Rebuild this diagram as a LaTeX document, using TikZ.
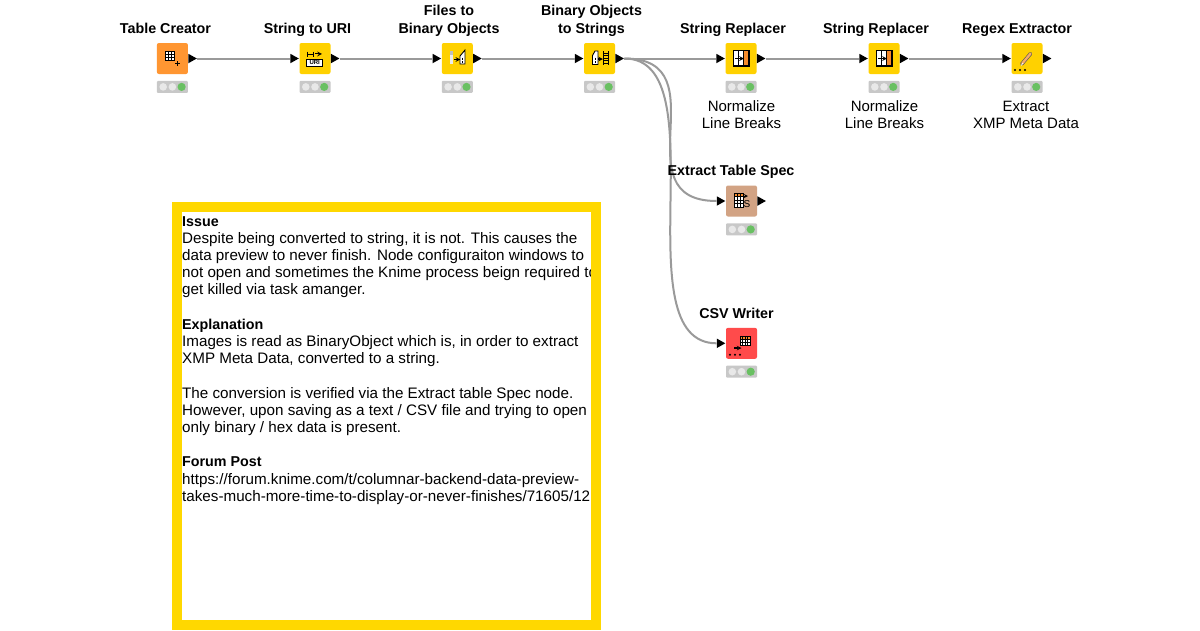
\documentclass[tikz,border=0pt]{standalone}
\usepackage{fontspec}
\setmainfont{Liberation Sans}
\usetikzlibrary{positioning,shapes.geometric}
\definecolor{sourcecol}{HTML}{FF9632}
\definecolor{manipcol}{HTML}{FFD100}
\definecolor{othercol}{HTML}{D2A384}
\definecolor{sinkcol}{HTML}{FF4B4B}
\definecolor{framecol}{HTML}{FFD800}
\definecolor{wirecol}{HTML}{9A9A9A}
\definecolor{barcol}{HTML}{C8C8C8}
\definecolor{lampcol}{HTML}{E8E8E8}
\definecolor{okcol}{HTML}{69C062}
\definecolor{headcol}{HTML}{F58A2C}
\newcommand{\notehead}[1]{{\fontsize{14.3}{17.2}\selectfont\bfseries #1}}
\tikzset{
  knode/.style={rounded corners=2pt, minimum size=31pt, inner sep=0pt},
  statusbar/.style={fill=barcol, rounded corners=1pt, minimum width=31pt, minimum height=12pt, inner sep=0pt},
  outport/.style={isosceles triangle, isosceles triangle stretches, fill=black, inner sep=0pt,
    minimum height=8.5pt, minimum width=9.5pt, anchor=lower side},
  inport/.style={outport, anchor=apex},
  wire/.style={wirecol, line width=2pt},
  title/.style={font=\fontsize{14.3}{18}\selectfont\bfseries, align=center, inner sep=0pt, text depth=3.5pt, anchor=south},
  caption/.style={font=\fontsize{15}{17.2}\selectfont, align=center, inner sep=0pt, text depth=3.5pt, anchor=south},
  icon/.style={line width=.9pt, black},
  iconarrow/.style={-stealth, line width=1.1pt, black}
}
\begin{document}
\begin{tikzpicture}[x=1pt,y=-1pt]
\useasboundingbox (0,0) rectangle (1200,630);
\fill[white] (0,0) rectangle (1200,630);
%boxes and status bars
\foreach \name/\xx/\yy/\col in {creator/172.4/58.5/sourcecol, uri/315/58.5/manipcol, files/457.3/58.5/manipcol,
    strings/599.5/58.5/manipcol, replaceA/741/58.5/manipcol, replaceB/884/58.5/manipcol,
    regex/1027/58.5/manipcol, spec/741.5/201/othercol, csv/741.5/343.3/sinkcol} {
  \node[knode, fill=\col] (\name) at (\xx,\yy) {};
  \node[statusbar, below=6.5pt of \name] (\name-status) {};
  \fill[lampcol] (\name-status.center) ++(-9.2,0) circle (3.8) ++(9.2,0) circle (3.8);
  \fill[okcol] (\name-status.center) ++(9.2,0) circle (4.1);
}
%ports
\foreach \name in {creator,uri,files,strings,replaceA,replaceB,regex,spec}
  \node[outport] (\name-out) at (\name.east) {};
\foreach \name in {uri,files,strings,replaceA,replaceB,regex,spec,csv}
  \node[inport] (\name-in) at (\name.west) {};
%connections
\foreach \a/\b in {creator/uri,uri/files,files/strings,strings/replaceA,replaceA/replaceB,replaceB/regex}
  \draw[wire] (\a-out.apex) -- (\b-in.lower side);
\draw[wire] (strings-out.apex) .. controls +(98,0) and +(-98,0) .. (spec-in.lower side);
\draw[wire] (strings-out.apex) .. controls +(96,0) and +(-96,0) .. (csv-in.lower side);
%titles
\node[title] (t-creator) at (165.5,37.5) {Table Creator};
\node[title] (t-uri) at (307.5,37.5) {String to URI};
\node[title] (t-files) at (449,37.5) {Files to\\Binary Objects};
\node[title] (t-strings) at (591.5,37.5) {Binary Objects\\to Strings};
\node[title] (t-replaceA) at (733,37.5) {String Replacer};
\node[title] (t-replaceB) at (876,37.5) {String Replacer};
\node[title] (t-regex) at (1017,37.5) {Regex Extractor};
\node[title] (t-spec) at (731,179.5) {Extract Table Spec};
\node[title] (t-csv) at (736.5,322.5) {CSV Writer};
%captions
\node[caption] (c-replaceA) at (741.5,132.5) {Normalize\\Line Breaks};
\node[caption] (c-replaceB) at (884.5,132.5) {Normalize\\Line Breaks};
\node[caption] (c-regex) at (1026,132.5) {Extract\\XMP Meta Data};
%icon table creator
\begin{scope}[shift={(creator)}]
  \draw[icon, line width=.7pt, fill=white, shift={(-7.2,2.2)}] (0,0) grid[step=3pt] (9,-9) (0,0) rectangle (9,-9);
  \draw[line width=1.4pt] (3,4.8) -- (7.6,4.8) (5.3,2.5) -- (5.3,7.1);
\end{scope}
%icon uri
\begin{scope}[shift={(uri)}]
  \draw[icon] (-7.7,-6.8) -- (-7.7,-1.8) (-1.7,-6.8) -- (-1.7,-1.8) (-7.7,-4.3) -- (-1.7,-4.3);
  \draw[iconarrow] (0,-4.6) -- (7,-4.6);
  \draw[icon, fill=white] (-8.3,0.8) rectangle (7.7,7.5);
  \node[font=\fontsize{6}{6}\selectfont\bfseries, inner sep=0pt] (urilabel) at (-0.3,4.2) {URI};
\end{scope}
%icon files
\begin{scope}[shift={(files)}]
  \fill[white!85!gray] (-7.3,-7.8) rectangle (-4,5.5);
  \fill[gray!50] (-7.3,-7.8) rectangle (-4,-4);
  \draw[iconarrow] (-3,1) -- (3,1);
  \draw[icon, fill=white] (2.7,-2.5) -- (7.7,-8.5) -- (7.7,5.5) -- (2.7,5.5) -- cycle;
  \draw[icon] (5.2,-1) -- (5.2,1) (5.2,2.5) -- (5.2,4.5);
\end{scope}
%icon strings
\begin{scope}[shift={(strings)}]
  \draw[icon, fill=white] (-7,-3) -- (-4.5,-7.5) -- (-1.5,-7.5) -- (-1.5,6) -- (-7,6) -- cycle;
  \draw[icon] (-4,-1) -- (-4,1) (-4,2.5) -- (-4,4.5);
  \draw[iconarrow] (-1.5,0.5) -- (3.5,0.5);
  \draw[icon] (3.5,-7.5) -- (3.5,6) (8.5,-7.5) -- (8.5,6);
  \foreach \yy in {-5.5,-3,-0.5,2,4.5}
    \draw[icon] (3.5,\yy) -- (8.5,\yy);
\end{scope}
%icon string replacer
\foreach \name in {replaceA,replaceB} {
  \begin{scope}[shift={(\name)}]
    \fill[white] (-7.7,-7.8) rectangle (2.3,7.5);
    \fill[headcol] (2.3,-7.8) rectangle (8,7.5);
    \draw[icon, line width=1.1pt] (-7.7,-7.8) rectangle (8,7.5);
    \draw[icon] (-3,-7.8) -- (-3,7.5) (2.3,-7.8) -- (2.3,7.5);
    \draw[iconarrow] (-6,0) -- (3,0);
  \end{scope}
}
%icon regex
\begin{scope}[shift={(regex)}]
  \draw[line width=3.6pt, black!65, line cap=round] (-5.2,5.5) -- (3.5,-4.8);
  \draw[line width=2.3pt, headcol!70!white, line cap=round] (-4.8,5) -- (3.5,-4.8);
  \draw[line width=.7pt, white] (-5.8,7) -- (-4,4.5);
  \foreach \xx in {-12,-7,-2}
    \fill[black] (\xx,11.5) circle (1.1);
\end{scope}
%icon spec
\begin{scope}[shift={(spec)}]
  \fill[white] (-7.5,-7.7) rectangle (1.5,6.3);
  \fill[headcol] (-7.5,-7.7) rectangle (1.5,-4.2);
  \draw[icon, line width=.7pt, shift={(-7.5,6.3)}] (0,0) grid[xstep=3pt,ystep=3.5pt] (9,-14) (0,0) rectangle (9,-14);
  \draw[-stealth, line width=.9pt] (1.5,-5) -- (6.5,-5);
  \node[font=\fontsize{10}{10}\selectfont, inner sep=0pt] (speclabel) at (5.5,3) {S};
\end{scope}
%icon csv
\begin{scope}[shift={(csv)}]
  \fill[white] (-1.5,-7.3) rectangle (8.5,1.7);
  \fill[headcol] (-1.5,-7.3) rectangle (8.5,-4.3);
  \draw[icon, line width=.5pt, shift={(-1.5,1.7)}] (0,0) grid[xstep=2.5pt,ystep=3pt] (10,-9);
  \draw[icon] (-1.5,-7.3) rectangle (8.5,1.7);
  \draw[iconarrow] (-7.2,4.7) -- (0,4.7);
  \foreach \xx in {-11.5,-6.5,-1.5}
    \fill[black] (\xx,11.4) circle (1.1);
\end{scope}
%annotation text
\begin{scope}
  \clip (182,211.7) rectangle (591,620);
  \node[anchor=north west, inner sep=0pt, align=left, font=\fontsize{15.2}{17.2}\selectfont] (note) at (182,216) {%
    \notehead{Issue}\\
    Despite being converted to string, it is not. This causes the\\
    data preview to never finish. Node configuraiton windows to\\
    not open and sometimes the Knime process beign required to\\
    get killed via task amanger.\\
    ~\\
    \notehead{Explanation}\\
    Images is read as BinaryObject which is, in order to extract\\
    XMP Meta Data, converted to a string.\\
    ~\\
    The conversion is verified via the Extract table Spec node.\\
    However, upon saving as a text / CSV file and trying to open it\\
    only binary / hex data is present.\\
    ~\\
    \notehead{Forum Post}\\
    https://forum.knime.com/t/columnar-backend-data-preview-\\
    takes-much-more-time-to-display-or-never-finishes/71605/12};
\end{scope}
\draw[framecol, line width=9.4pt] (177.1,207) rectangle (595.9,625);
\end{tikzpicture}
\end{document}
